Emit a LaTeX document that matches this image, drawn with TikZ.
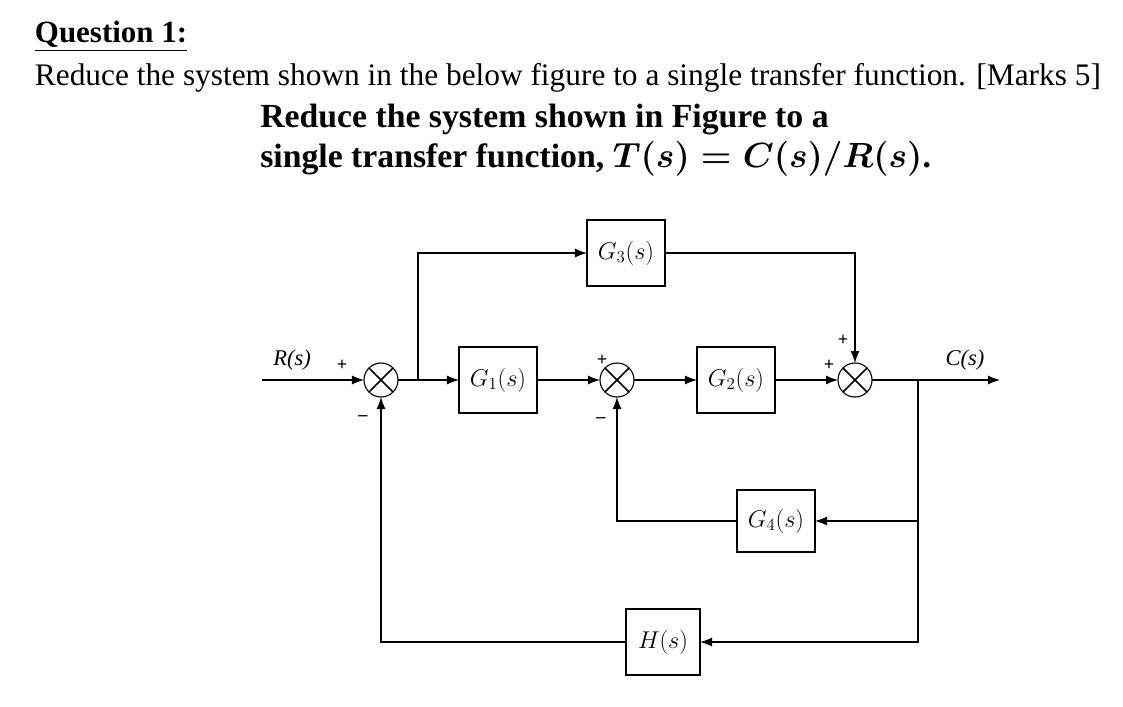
\documentclass[tikz,border=0pt]{standalone}
\usepackage{fontspec}
\setmainfont{Liberation Serif}
\usetikzlibrary{arrows.meta}
\tikzset{
  block/.style = {draw, thick, outer sep=0pt, minimum width=1.95cm, minimum height=1.65cm, font=\fontsize{17}{20}\selectfont},
  sumj/.style = {draw, thick, circle, outer sep=0pt, minimum size=0.85cm, inner sep=0pt,
    path picture={\draw[very thick] (path picture bounding box.north west) -- (path picture bounding box.south east)
      (path picture bounding box.north east) -- (path picture bounding box.south west);}},
  sig/.style = {font=\bfseries\fontsize{13}{14}\selectfont},
  arr/.style = {thick, -{Latex[length=3mm]}}
}
\begin{document}
\begin{tikzpicture}[x=0.025cm, y=-0.025cm]
      \useasboundingbox (0,0) rectangle (1123,706);
      \node[anchor=west, font=\bfseries\fontsize{22}{24}\selectfont] (q) at (30,36) {\underline{Question 1:}};
      \node[anchor=west, font=\fontsize{22.3}{26}\selectfont] (task) at (30,78) {Reduce the system shown in the below figure to a single transfer function. [Marks 5]};
      \node[anchor=west, font=\boldmath\bfseries\fontsize{24}{28}\selectfont, align=left, inner sep=0pt] (book) at (260,140)
        {Reduce the system shown in Figure to a\\ single transfer function, $T(s)=C(s)/R(s)$.};
      % blocks
      \node[block] (g1) at (498,380) {$G_1(s)$};
      \node[block] (g2) at (736,380) {$G_2(s)$};
      \node[block] (g3) at (626,253) {$G_3(s)$};
      \node[block, minimum height=1.55cm] (g4) at (776,521) {$G_4(s)$};
      \node[block, minimum width=1.85cm] (h) at (663,642) {$H(s)$};
      % summing junctions
      \node[sumj] (s1) at (381,380) {};
      \node[sumj] (s2) at (617,380) {};
      \node[sumj] (s3) at (855,380) {};
      \coordinate (in) at (262,380);
      \coordinate (out) at (1000,380);
      \coordinate (p1) at (418,380);
      \coordinate (p2) at (918,380);
      \node[font=\itshape\fontsize{16}{18}\selectfont] (r) at (292,360) {R(s)};
      \node[font=\itshape\fontsize{16}{18}\selectfont] (c) at (965,360) {C(s)};
      % forward path
      \draw[arr] (in) -- (s1);
      \draw[arr] (s1) -- (g1);
      \draw[arr] (g1) -- (s2);
      \draw[arr] (s2) -- (g2);
      \draw[arr] (g2) -- (s3);
      \draw[arr] (s3) -- (out);
      \draw[arr] (p1) |- (g3);
      \draw[arr] (g3) -| (s3);
      % feedback paths
      \draw[arr] (p2) |- (g4);
      \draw[arr] (g4) -| (s2);
      \draw[arr] (p2) |- (h);
      \draw[arr] (h) -| (s1);
      % signs
      \node[sig] (s1p) at (342,365) {+};
      \node[sig] (s1m) at (363,418) {--};
      \node[sig] (s2p) at (602,360) {+};
      \node[sig] (s2m) at (601,420) {--};
      \node[sig] (s3p) at (829,365) {+};
      \node[sig] (s3t) at (843,340) {+};
\end{tikzpicture}
\end{document}
